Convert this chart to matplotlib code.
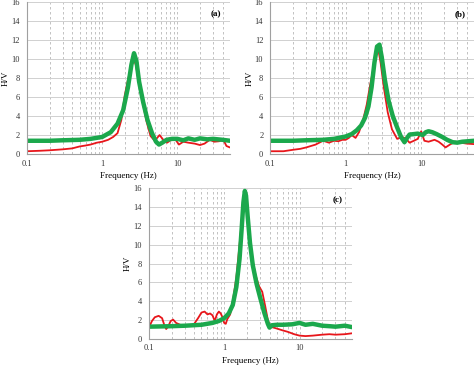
import numpy as np
import matplotlib
matplotlib.use("Agg")
import matplotlib.pyplot as plt
from matplotlib.ticker import FixedLocator, NullFormatter

plt.rcParams["font.family"] = ["Liberation Serif", "DejaVu Serif"]

# ---- panel (a) ----
a_green_f = [0.1, 0.2, 0.3, 0.5, 0.7, 1.0, 1.3, 1.6, 1.9, 2.2, 2.45, 2.65, 2.85, 3.1,
             3.5, 4.0, 4.6, 5.2, 5.7, 6.3, 7.2, 8.5, 10, 12, 14, 17, 20, 25, 30, 40, 50]
a_green_v = [1.4, 1.4, 1.45, 1.5, 1.6, 1.8, 2.3, 3.2, 4.6, 7.0, 9.4, 10.6, 9.8, 7.6,
             5.5, 3.6, 2.2, 1.3, 1.0, 1.2, 1.5, 1.6, 1.6, 1.45, 1.65, 1.5, 1.65, 1.55, 1.6, 1.5, 1.4]
a_red_f = [0.1, 0.15, 0.2, 0.3, 0.4, 0.5, 0.6, 0.7, 0.85, 1.0, 1.2, 1.4, 1.6, 1.8, 2.0,
           2.2, 2.4, 2.6, 2.8, 3.1, 3.5, 3.9, 4.4, 5.0, 5.8, 6.5, 7.3, 8.3, 9.3, 10.5, 12,
           14, 17, 20, 23, 27, 31, 36, 41, 45, 50]
a_red_v = [0.3, 0.35, 0.4, 0.5, 0.6, 0.8, 0.9, 1.0, 1.2, 1.3, 1.5, 1.8, 2.2, 3.6, 6.2,
           7.8, 8.9, 10.0, 9.4, 7.4, 5.2, 3.4, 1.9, 1.4, 2.0, 1.5, 1.2, 1.5, 1.6, 1.0, 1.3,
           1.2, 1.1, 0.95, 1.1, 1.5, 1.3, 1.35, 1.5, 0.85, 0.7]

# ---- panel (b) ----
b_green_f = [0.1, 0.2, 0.3, 0.5, 0.7, 1.0, 1.2, 1.4, 1.6, 1.8, 2.0, 2.2, 2.4, 2.6, 2.8,
             3.0, 3.3, 3.7, 4.2, 4.8, 5.4, 6.0, 6.5, 7.0, 8.0, 9.0, 10.5, 11.5, 12.5, 14,
             16, 19, 22, 26, 30, 35, 42, 50]
b_green_v = [1.4, 1.4, 1.45, 1.5, 1.6, 1.85, 2.1, 2.5, 3.0, 3.8, 5.0, 7.0, 9.6, 11.3, 11.5,
             10.2, 7.8, 5.6, 4.0, 2.8, 1.8, 1.25, 1.7, 2.05, 2.1, 2.15, 2.0, 2.3, 2.4, 2.3,
             2.1, 1.8, 1.5, 1.25, 1.2, 1.3, 1.35, 1.4]
b_red_f = [0.1, 0.15, 0.2, 0.25, 0.3, 0.4, 0.5, 0.55, 0.6, 0.7, 0.8, 0.9, 1.0, 1.1, 1.2,
           1.35, 1.5, 1.7, 1.9, 2.1, 2.3, 2.5, 2.7, 2.9, 3.2, 3.6, 4.1, 4.8, 5.6, 6.3,
           7.0, 8.0, 9.0, 10.0, 11, 12.5, 15, 17, 19, 21, 24, 28, 33, 40, 50]
b_red_v = [0.3, 0.3, 0.45, 0.55, 0.7, 1.0, 1.4, 1.3, 1.2, 1.4, 1.35, 1.5, 1.5, 1.7, 2.0,
           1.7, 2.3, 3.6, 5.2, 7.2, 8.8, 10.3, 11.0, 9.6, 7.0, 4.4, 2.6, 1.6, 1.8, 1.6,
           1.2, 1.4, 1.6, 2.4, 1.4, 1.3, 1.5, 1.3, 1.0, 0.7, 1.0, 1.3, 1.2, 1.1, 1.05]

# ---- panel (c) ----
c_green_f = [0.1, 0.2, 0.3, 0.5, 0.7, 0.85, 1.0, 1.15, 1.3, 1.45, 1.6, 1.7, 1.8, 1.88,
             1.95, 2.05, 2.2, 2.4, 2.7, 3.0, 3.4, 3.8, 4.0, 4.3, 5.0, 6.0, 8.0, 10, 12,
             15, 20, 25, 30, 40, 50]
c_green_v = [1.3, 1.35, 1.4, 1.5, 1.7, 1.9, 2.2, 2.7, 3.6, 5.5, 8.5, 11.5, 14.5, 15.7,
             15.2, 13.0, 10.2, 7.8, 5.8, 4.4, 2.8, 1.6, 1.2, 1.45, 1.5, 1.5, 1.55, 1.7, 1.5,
             1.6, 1.4, 1.35, 1.3, 1.4, 1.25]
c_red_f = [0.1, 0.11, 0.12, 0.135, 0.15, 0.16, 0.17, 0.18, 0.195, 0.21, 0.23, 0.26, 0.3,
           0.35, 0.4, 0.45, 0.5, 0.55, 0.6, 0.65, 0.7, 0.75, 0.8, 0.85, 0.9, 0.95, 1.0,
           1.05, 1.1, 1.2, 1.3, 1.45, 1.6, 1.75, 1.85, 1.95, 2.1, 2.3, 2.6, 2.9, 3.2,
           3.5, 3.8, 4.1, 5.0, 6.0, 7.0, 8.5, 10, 12, 15, 20, 25, 30, 40, 50]
c_red_v = [1.2, 1.9, 2.3, 2.45, 2.2, 1.5, 1.05, 1.3, 1.9, 2.05, 1.7, 1.5, 1.4,
           1.4, 1.6, 2.2, 2.8, 2.9, 2.6, 2.7, 2.5, 1.9, 2.6, 2.9, 2.7, 2.3, 1.7,
           1.6, 2.1, 2.6, 4.0, 6.5, 10.0, 13.2, 15.0, 14.6, 12.0, 9.0, 6.8, 5.6, 5.0,
           3.5, 2.0, 1.3, 1.1, 0.9, 0.75, 0.5, 0.35, 0.3, 0.35, 0.45, 0.5, 0.45, 0.5, 0.6]

panels = [
    ("(a)", [0.057, 0.579, 0.428, 0.416], a_red_f, a_red_v, a_green_f, a_green_v),
    ("(b)", [0.570, 0.579, 0.430, 0.416], b_red_f, b_red_v, b_green_f, b_green_v),
    ("(c)", [0.314, 0.074, 0.429, 0.412], c_red_f, c_red_v, c_green_f, c_green_v),
]

RED = "#e8161b"
GREEN = "#1ba84c"

fig = plt.figure(figsize=(4.74, 3.66), dpi=100)

minor = [m * 10.0 ** e for e in (-1, 0, 1) for m in range(2, 10)]
minor = [v for v in minor if v < 50]
major = [0.1, 1, 10]

for label, rect, rf, rv, gf, gv in panels:
    ax = fig.add_axes(rect)
    ax.set_xscale("log")
    ax.set_xlim(0.1, 50)
    ax.set_ylim(0, 16)
    ax.xaxis.set_major_locator(FixedLocator(major))
    ax.xaxis.set_minor_locator(FixedLocator(minor))
    ax.xaxis.set_minor_formatter(NullFormatter())
    ax.set_xticklabels(["0.1", "1", "10"])
    ax.set_yticks(range(0, 17, 2))
    ax.tick_params(labelsize=6, length=0, which="both", colors="#333333")
    ax.tick_params(axis="y", pad=5)
    ax.tick_params(axis="x", pad=4)
    ax.grid(True, which="major", axis="y", color="#d0d0d0", lw=0.7, ls="-")
    ax.grid(True, which="both", axis="x", color="#b8b8b8", lw=0.6, ls=(0, (3, 3)))
    ax.set_axisbelow(True)
    for s in ("top", "right"):
        ax.spines[s].set_visible(False)
    for s in ("left", "bottom"):
        ax.spines[s].set_color("#a0a0a0")
        ax.spines[s].set_linewidth(0.8)
    ax.plot(rf, rv, color=RED, lw=1.3, solid_joinstyle="round")
    ax.plot(gf, gv, color=GREEN, lw=3.2, solid_joinstyle="round", solid_capstyle="round")
    ax.text(0.93, 0.92, label, transform=ax.transAxes, fontsize=6.5,
            fontweight="bold", ha="center", va="center")
    ax.set_xlabel("Frequency (Hz)", fontsize=6.5, labelpad=3)
    ax.set_ylabel("H/V", fontsize=6.5, labelpad=1)

fig.savefig("out.png", dpi=100)
